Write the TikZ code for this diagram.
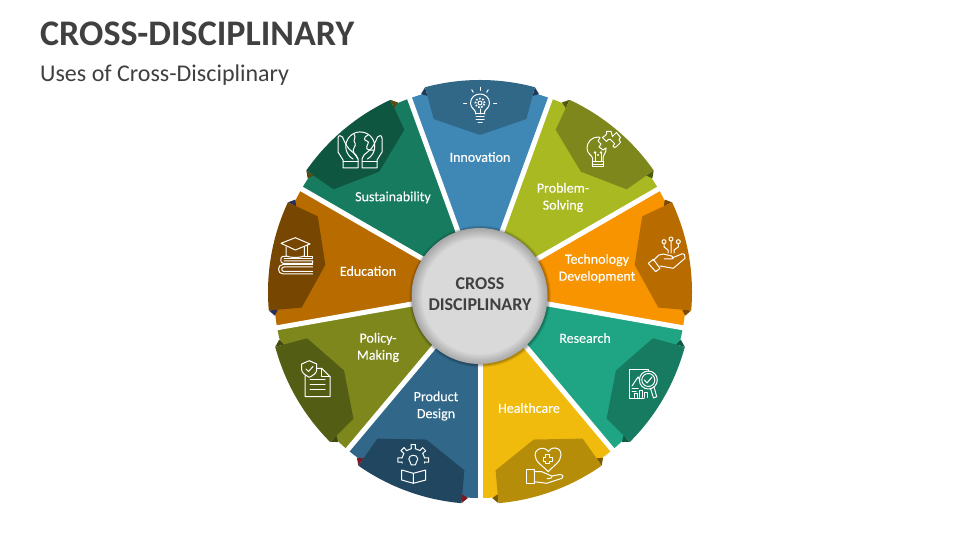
\documentclass[tikz,border=0pt]{standalone}
\usepackage{fontspec}
\setmainfont{Carlito}
\newfontfamily\labfont[FakeBold=0.12]{Carlito}
\definecolor{inL}{HTML}{3F88B5}\definecolor{inD}{HTML}{326887}
\definecolor{suL}{HTML}{177B5F}\definecolor{suD}{HTML}{0F5640}
\definecolor{prL}{HTML}{A9B922}\definecolor{prD}{HTML}{7E871C}
\definecolor{teL}{HTML}{F79400}\definecolor{teD}{HTML}{B86C00}
\definecolor{reL}{HTML}{1FA584}\definecolor{reD}{HTML}{177B61}
\definecolor{heL}{HTML}{F0BB0D}\definecolor{heD}{HTML}{B68D08}
\definecolor{pdL}{HTML}{31688A}\definecolor{pdD}{HTML}{204660}
\definecolor{poL}{HTML}{7E871C}\definecolor{poD}{HTML}{535E14}
\definecolor{edL}{HTML}{B86C00}\definecolor{edD}{HTML}{774600}
\definecolor{inF}{HTML}{1F3A5A}\definecolor{suF}{HTML}{5A4A10}
\definecolor{prF}{HTML}{4A5A10}\definecolor{teF}{HTML}{7A4A00}
\definecolor{reF}{HTML}{0F5A45}\definecolor{heF}{HTML}{7A5A00}
\definecolor{pdF}{HTML}{7A1A20}\definecolor{poF}{HTML}{3E4A10}
\definecolor{edF}{HTML}{26305A}
\definecolor{txt}{HTML}{404040}
\definecolor{disc}{HTML}{D9D9D9}\definecolor{discedge}{HTML}{A6A6A6}
\pgfdeclareradialshading{discring}{\pgfpointorigin}{%
 color(0bp)=(disc);color(21bp)=(disc);color(25bp)=(discedge);color(50bp)=(discedge)}
\tikzset{
 x=1pt,y=1pt,
 lab/.style={text=white,align=center,inner sep=0pt,font=\labfont\fontsize{14}{17}\selectfont},
 icon/.style={draw=white,line width=1pt,line cap=round,line join=round},
}
\newcommand{\bulbshape}{(-4.5,-10) -- (-4.5,-8) .. controls (-5,-5.5) and (-9.5,-4) .. (-9.5,1) .. controls (-9.5,6.5) and (-5,10) .. (0,10) .. controls (5,10) and (9.5,6.5) .. (9.5,1) .. controls (9.5,-4) and (5,-5.5) .. (4.5,-8) -- (4.5,-10)}
\begin{document}
\begin{tikzpicture}
\useasboundingbox (0,0) rectangle (960,540);
\fill[white] (0,0) rectangle (960,540);
% wheel
\begin{scope}[shift={(480,248)}]
 \foreach \a/\l/\d/\f in {90/inL/inD/inF,130/suL/suD/suF,50/prL/prD/prF,10/teL/teD/teF,-30/reL/reD/reF,-70/heL/heD/heF,-110/pdL/pdD/pdF,-150/poL/poD/poF,170/edL/edD/edF}{
  \pgfmathsetmacro{\as}{\a-20}\pgfmathsetmacro{\ae}{\a+20}
  \pgfmathsetmacro{\bs}{\a-15}\pgfmathsetmacro{\be}{\a+15}
  \pgfmathsetmacro{\fs}{\a-16.6}\pgfmathsetmacro{\fe}{\a+16.6}
  \fill[\l] (0,0) -- (\as:206) arc[start angle=\as,end angle=\ae,radius=206pt] -- cycle;
  \fill[\f] (\bs:212) -- (\fs:206.5) -- (\bs:203) -- cycle;
  \fill[\f] (\be:212) -- (\fe:206.5) -- (\be:203) -- cycle;
  \fill[\d] (\bs:212) arc[start angle=\bs,end angle=\be,radius=212pt] -- (\be:179) -- (\a:157) -- (\bs:179) -- cycle;
 }
 \foreach \a in {70,110,150,-170,-130,-90,-50,-10,30}{
  \draw[white,line width=5pt] (0,0) -- (\a:216);
 }
\end{scope}
% centre disc
\foreach \r/\o in {71/0.07,70/0.10,69/0.14}{
 \fill[black,opacity=\o] (480,243.5) circle (\r pt);
}
\shade[shading=discring] (479.5,244) circle (68pt);
\node[inner sep=0pt,text=txt,font=\fontsize{18}{21}\bfseries\selectfont,align=center] (centre) at (480,246) {CROSS\\DISCIPLINARY};
% titles
\node[anchor=base west,inner sep=0pt,text=txt,font=\fontsize{36}{40}\bfseries\selectfont] (title) at (40,494) {CROSS-DISCIPLINARY};
\node[anchor=base west,inner sep=0pt,text=txt,font=\fontsize{24}{28}\selectfont] (subtitle) at (40,458) {Uses of Cross-Disciplinary};
% labels
\node[lab] (l-inn) at (480,383) {Innovation};
\node[lab] (l-sus) at (393,342.5) {Sustainability};
\node[lab] (l-pro) at (563,342.5) {Problem-\\Solving};
\node[lab] (l-tec) at (597,271.5) {Technology\\Development};
\node[lab] (l-edu) at (368,269) {Education};
\node[lab] (l-pol) at (378,192.5) {Policy-\\Making};
\node[lab] (l-pdt) at (436,134) {Product\\Design};
\node[lab] (l-hea) at (529,132) {Healthcare};
\node[lab] (l-res) at (585,202) {Research};
% --- icons ---
% innovation
\begin{scope}[shift={(480,436)},icon]
 \draw \bulbshape;
 \draw (-4.5,-10) -- (4.5,-10) (-4,-13) -- (4,-13) (-4,-16) -- (4,-16) (-2,-19) -- (2,-19);
 \draw (0,-10) -- (0,-5);
 \draw (0,1) circle (2pt);
 \draw[line width=1.7pt,line cap=butt,dash pattern=on 1.6pt off 1.6pt] (0,1) circle (4.6pt);
 \foreach \a in {0,60,90,120,180}{\draw (\a:13.5) -- (\a:16.5);}
\end{scope}
% sustainability
\begin{scope}[shift={(360,393)},icon]
 \draw (-7,-12) arc[start angle=240,end angle=-60,radius=14.5pt];
 \draw (-6,13) .. controls (-3,9) and (-8,7) .. (-5,4) .. controls (-3,1) and (-9,-2) .. (-6,-6) .. controls (-5,-8) and (-3,-10) .. (-2,-12);
 \draw (8,12) .. controls (3,10) and (4,6) .. (7,6) .. controls (11,5) and (5,1) .. (7,-2) .. controls (9,-4) and (12,-3) .. (14,-3);
 \foreach \s in {1,-1}{
  \begin{scope}[xscale=\s]
   \draw (17,-21) -- (2,-21) -- (2,-12) -- (4,-8) -- (11,-2) (11,-2) .. controls (14,2) and (16,6) .. (17.5,10) .. controls (18.5,12) and (22,12) .. (22,9) -- (22,-5) -- (17,-13) -- (17,-21);
   \draw (2,-15) -- (17,-15);
  \end{scope}
 }
\end{scope}
% problem-solving
\begin{scope}[shift={(600,390)},icon]
 \draw (-7.5,-11) -- (-7.5,-8) .. controls (-8,-5) and (-13,-4) .. (-13,2) .. controls (-13,8) and (-8,13) .. (-2,13) -- (0,12.5) -- (-2,9) -- (1,6) -- (-1,3) -- (3,0) -- (6,2) .. controls (7,-2) and (3,-5) .. (3,-8) -- (3,-11);
 \draw (-8,-11.5) rectangle (3.5,-17);
 \draw (-8,-14.2) -- (3.5,-14.2);
 \draw (-5,-11) -- (-5,-3) (1,-11) -- (1,-3);
 \fill[white,draw=none] (-5,-2.5) circle (1.3pt) (1,-2.5) circle (1.3pt) (-2,-5) circle (1.1pt);
 \begin{scope}[shift={(-1.5,3.5)}]
 \draw (4,9) -- (8,5) .. controls (9,7) and (11,8) .. (12,7) -- (16,3) .. controls (14,1) and (14,-1) .. (16,-1) -- (18,0) -- (22,4) .. controls (20,6) and (20,8) .. (22,9) -- (18,14) -- (14,10) .. controls (12,12) and (14,15) .. (12,15) -- (8,15) .. controls (9,12) and (6,10) .. (4,9);
 \end{scope}
\end{scope}
% technology
\begin{scope}[shift={(665,285)},icon]
 \draw (-16.7,-8.3) -- (-11.7,-4.3) -- (-5,-13.3) -- (-9.3,-16.7) -- cycle;
 \draw (-12,-5.7) -- (-6,0) -- (-1.7,1) -- (6.7,-1) .. controls (9,-2) and (9,-4) .. (6,-4) -- (-1,-4);
 \draw (7,-3) -- (16.7,1) .. controls (19,2) and (21,-1) .. (20,-3.3) -- (8.3,-13.3) -- (-5,-11);
 \draw (-1,13.3) circle (2pt) (6,16) circle (2pt) (13.3,13.3) circle (2pt);
 \draw (-1,11.3) -- (-1,8) -- (3,5) -- (3,2) (6,14) -- (6,2) (13.3,11.3) -- (13.3,8) -- (9,5) -- (9,2);
\end{scope}
% research
\begin{scope}[shift={(643,155)},icon]
 \draw (1,-13.3) -- (-14,-13.3) -- (-14,15) -- (5.3,15) -- (5.3,13.5);
 \draw (5.3,5) circle (9pt) (5.3,5) circle (6.5pt);
 \draw (11,-2) -- (13.7,-11.7) -- (10.5,-13) -- (7.5,-3.5);
 \draw (1.5,5) -- (4,2) -- (9,8);
 \draw (-11,-1) -- (-5,8) -- (-3,5);
 \draw (-11,-4) -- (-5,-4) (-11,-7) -- (-7,-7);
 \draw (-9,-12.5) -- (-9,-9) -- (-6,-9) -- (-6,-12.5) (-4,-12.5) -- (-4,-6) -- (-1,-6) -- (-1,-12.5) (1,-12.5) -- (1,-7.5) -- (4,-7.5) -- (4,-12.5);
\end{scope}
% healthcare
\begin{scope}[shift={(545,75)},icon]
 \draw (3.3,-6.7) .. controls (-2,-1) and (-10,3) .. (-10,10) .. controls (-10,15) and (-5,17.5) .. (-1,16.5) .. controls (1,16) and (2.5,15) .. (3.3,13.5) .. controls (4.5,15.5) and (7,17.5) .. (10.5,17) .. controls (14,16.5) and (16,14) .. (16,10) .. controls (16,3) and (8,-1) .. (3.3,-6.7);
 \draw (0.7,10) -- (4.7,10) -- (4.7,7.5) -- (7.2,7.5) -- (7.2,3.5) -- (4.7,3.5) -- (4.7,1) -- (0.7,1) -- (0.7,3.5) -- (-1.8,3.5) -- (-1.8,7.5) -- (0.7,7.5) -- cycle;
 \draw (-18.3,-5) rectangle (-11,-18.3);
 \draw (-11,-6.7) -- (-3.3,-6.7) -- (6.7,-11) .. controls (8,-12.5) and (5,-14) .. (2,-13.5) (6.7,-11) -- (15,-9.5) .. controls (18,-9.5) and (19,-12) .. (17,-13.3) -- (1.7,-18.3) -- (-11,-16.7);
\end{scope}
% product design
\begin{scope}[shift={(413,73)},icon]
 \draw (0.3,-6.3) -- (-11.3,-3) -- (-11.3,-13) -- (0.3,-16.3) -- (12.7,-13) -- (12.7,-3) -- cycle (0.3,-6.3) -- (0.3,-16.3);
 \begin{scope}[shift={(0.3,7)}]
  \foreach \a in {0,45,90,135,180}{
   \pgfmathsetmacro{\u}{\a-10}\pgfmathsetmacro{\v}{\a-8}\pgfmathsetmacro{\w}{\a+8}\pgfmathsetmacro{\z}{\a+10}
   \draw (\u:11.5) -- (\v:15.5) -- (\w:15.5) -- (\z:11.5);
  }
  \foreach \a in {10,55,100,145}{\pgfmathsetmacro{\b}{\a+25}\draw (\a:11.5) -- (\b:11.5);}
  \draw (-10:11.5) -- (-16:11.5) (190:11.5) -- (196:11.5);
  \draw (-2,-5) .. controls (-2,-2) and (-4.5,-1.5) .. (-4.5,1) .. controls (-4.5,6) and (4.5,6) .. (4.5,1) .. controls (4.5,-1.5) and (2,-2) .. (2,-5) -- cycle;
 \end{scope}
\end{scope}
% policy
\begin{scope}[shift={(315,162)},icon]
 \draw (1.5,9.7) -- (6.7,9.7) -- (15,1.3) -- (15,-18.7) -- (-10,-18.7) -- (-10,2.5);
 \draw (6.7,9.7) -- (6.7,1.3) -- (15,1.3);
 \draw (-5.7,17.3) -- (-13.3,14) -- (-13.3,8) .. controls (-13.3,5) and (-9,2.5) .. (-5.7,0.7) .. controls (-2,2.5) and (1.7,5) .. (1.7,8) -- (1.7,14) -- cycle;
 \draw (-9,9) -- (-6.5,6.5) -- (-2,11.5);
 \draw (-5,-2) -- (10,-2) (-5,-7) -- (10,-7) (-5,-12) -- (10,-12);
\end{scope}
% education
\begin{scope}[shift={(296,283)},icon]
 \draw (-15,13.7) -- (-0.7,19.3) -- (14,13) -- (-0.7,7) -- cycle;
 \draw (-10,10) -- (-10,1) .. controls (-5,-1) and (4,-1) .. (8.3,1) -- (8.3,10);
 \draw (11,12) -- (11,1);
 \draw (-10,0.7) -- (-13,0.7) .. controls (-16,0.7) and (-16,-6.3) .. (-13,-6.3) -- (16.7,-6.3) -- (16.7,-3.8) -- (-12,-3.8);
 \draw (8.3,0.7) -- (16.7,0.7) -- (16.7,-2) -- (-12,-2);
 \draw (16.7,-7.5) -- (-13,-7.5) .. controls (-19,-7.5) and (-19,-17) .. (-13,-17) -- (16.7,-17);
 \draw (16.7,-10) -- (-12,-10) .. controls (-15,-10) and (-15,-14.5) .. (-12,-14.5) -- (16.7,-14.5);
\end{scope}
\end{tikzpicture}
\end{document}
